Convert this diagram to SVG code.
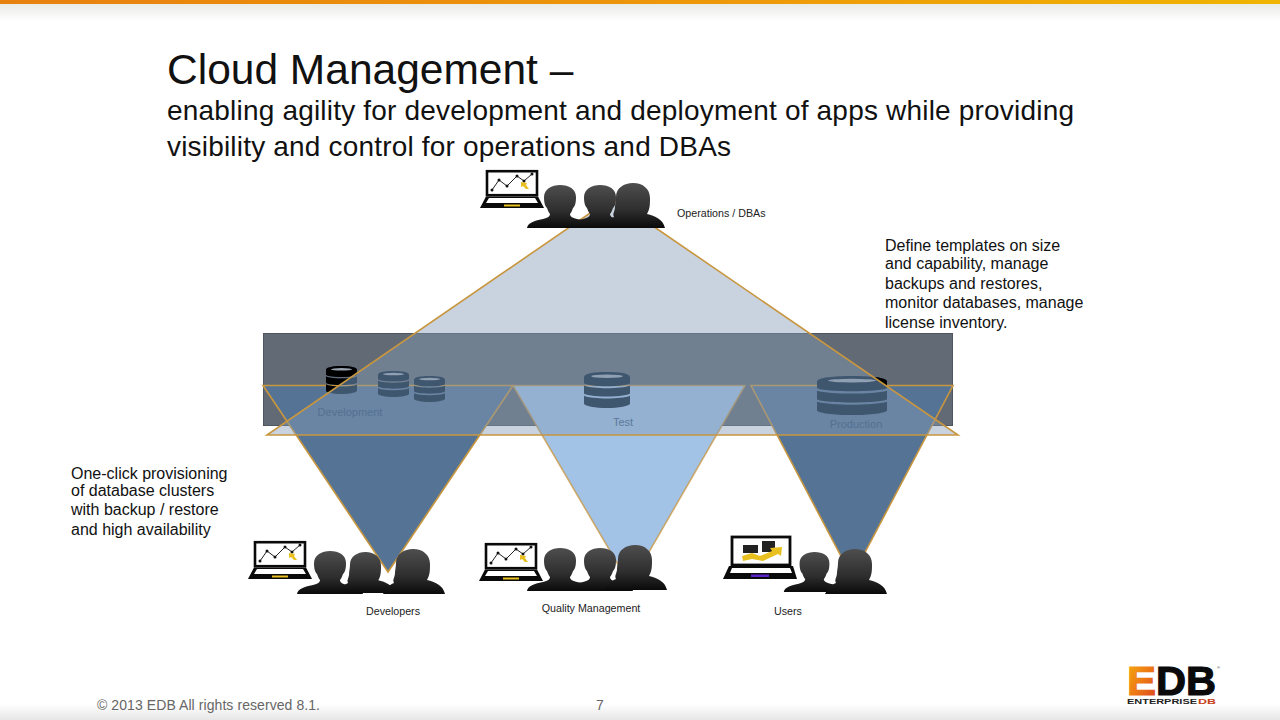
<svg xmlns="http://www.w3.org/2000/svg" xmlns:xlink="http://www.w3.org/1999/xlink" width="1280" height="720" viewBox="0 0 1280 720">
<style>
text{font-family:"Liberation Sans",Arial,sans-serif;fill:#111}
.title{font-size:42.500px}
.sub{font-size:28px}
.note{font-size:16px}
.lbl{font-size:10.700px;fill:#222}
.db-lbl{font-size:11px;fill:#24466c;opacity:.8}
.foot{font-size:14px;fill:#666}
.cone{stroke:#c8963f;stroke-width:1.600;stroke-linejoin:miter}
.dbk{color:#0a2038}
.blk{color:#000}
</style>
<defs>
<linearGradient id="top" x1="0" x2="1" y1="0" y2="0"><stop offset="0" stop-color="#e8800e"/><stop offset=".6" stop-color="#ee9a08"/><stop offset="1" stop-color="#f0b400"/></linearGradient>
<linearGradient id="shadeT" x1="0" x2="0" y1="0" y2="1"><stop offset="0" stop-color="#e9ebe6"/><stop offset="1" stop-color="#fff"/></linearGradient>
<linearGradient id="shadeB" x1="0" x2="0" y1="0" y2="1"><stop offset="0" stop-color="#fff"/><stop offset="1" stop-color="#e6e6e6"/></linearGradient>
<linearGradient id="sil" x1="0" x2="0" y1="0" y2="1"><stop offset="0" stop-color="#4e4e4e"/><stop offset=".6" stop-color="#2e2e2e"/><stop offset="1" stop-color="#0a0a0a"/></linearGradient>
<linearGradient id="eGrad" x1="0" x2="1" y1="0" y2="1"><stop offset="0" stop-color="#f4b012"/><stop offset=".5" stop-color="#ee7a14"/><stop offset="1" stop-color="#d8401a"/></linearGradient>
<clipPath id="outsideCone"><polygon points="267,435 612,198 250,198 250,435"/><polygon points="958,435 612,198 970,198 970,435"/></clipPath>
<symbol id="man" viewBox="-40 0 80 44" width="80" height="44" overflow="visible">
<path fill="url(#sil)" d="M-16 12C-16 4-8 0 0 0C9 0 16 4 16 12C16 18 15 21 13 23C12 26 11 28 10 29C10 31 12 33 17 34C27 36 32 38 33 43L-33 43C-32 38-27 36-17 34C-12 33-10 31-10 29C-11 28-12 26-13 23C-15 21-16 18-16 12Z"/>
</symbol>
<symbol id="woman" viewBox="-40 0 80 46" width="80" height="46" overflow="visible">
<path fill="url(#sil)" d="M-17 14C-17 5-9 0 0 0C10 0 17 6 17 15C17 21 17 26 14 31C22 33 30 36 32 45L-30 45C-27 39-24 36-19 34C-21 31-18 28-18 24C-18 21-17 18-17 14Z"/>
</symbol>
<symbol id="laptop" viewBox="0 0 64 38" width="64" height="38" overflow="visible">
<rect x="7" y="1.200" width="50" height="24" fill="#fff" stroke="#0a0a0a" stroke-width="2.600"/>
<path d="M6 26.500H58L64 38H0Z" fill="#0a0a0a"/>
<path d="M9 28H55L58 33H6Z" fill="#fff"/>
</symbol>
<symbol id="chart" viewBox="0 0 64 38" width="64" height="38" overflow="visible">
<polyline points="12,20 19,10 27,16 37,6 44,11 52,4" fill="none" stroke="#222" stroke-width="1"/>
<g fill="#111"><circle cx="12" cy="20" r="1.500"/><circle cx="19" cy="10" r="1.500"/><circle cx="27" cy="16" r="1.500"/><circle cx="37" cy="6" r="1.500"/><circle cx="44" cy="11" r="1.500"/><circle cx="52" cy="4" r="1.500"/></g>
<path d="M41 12L47 13L46 15L49 19L46 19L43 16L41 17Z" fill="#e8c020"/>
<rect x="24" y="34.500" width="16" height="2" fill="#e8c020"/>
</symbol>
<symbol id="db" viewBox="0 0 32 28" width="32" height="28" preserveAspectRatio="none" overflow="visible">
<path d="M0 4C0 1 8 0 16 0S32 1 32 4V8.500C32 10 24 11 16 11S0 10 0 8.500Z" fill="currentColor"/>
<ellipse cx="16" cy="3.300" rx="11" ry="1.300" fill="#9aa4b0"/>
<path d="M0 10.500C3 12 10 12.600 16 12.600S29 12 32 10.500V16.500C32 18 24 19 16 19S0 18 0 16.500Z" fill="currentColor"/>
<path d="M0 18.500C3 20 10 20.600 16 20.600S29 20 32 18.500V24.500C32 26.500 24 28 16 28S0 26.500 0 24.500Z" fill="currentColor"/>
</symbol>
</defs>
<rect width="1280" height="720" fill="#fff"/>
<rect y="4" width="1280" height="17" fill="url(#shadeT)"/>
<rect width="1280" height="4" fill="url(#top)"/>
<rect y="704" width="1280" height="16" fill="url(#shadeB)"/>

<g id="heading">
<text class="title" x="167" y="84">Cloud Management –</text>
<text class="sub" x="167" y="120" textLength="907" lengthAdjust="spacing">enabling agility for development and deployment of apps while providing</text>
<text class="sub" x="167" y="156" textLength="564" lengthAdjust="spacing">visibility and control for operations and DBAs</text>
</g>

<rect id="cloud-band" x="263.500" y="333.500" width="689" height="92" fill="#626b75" stroke="#4c5560"/>

<g id="connectors">
<polygon id="cone-dev" class="cone" points="263,385.500 513,385.500 388,572" fill="#557495"/>
<polygon id="cone-test" class="cone" points="513,385.500 745,385.500 630,585" fill="#a2c2e6" stroke-opacity=".75"/>
<polygon id="cone-prod" class="cone" points="751,385.500 953,385.500 852,577" fill="#557495"/>
</g>

<g id="db-development" class="dbk">
<use xlink:href="#db" href="#db" x="326" y="366" width="31" height="28"/>
<use xlink:href="#db" href="#db" x="378" y="371" width="31" height="26"/>
<use xlink:href="#db" href="#db" x="414" y="376" width="31" height="26"/>
<text class="db-lbl" x="350" y="416" text-anchor="middle">Development</text>
</g>
<g id="db-test" class="dbk">
<use xlink:href="#db" href="#db" x="584" y="372" width="46" height="36"/>
<text class="db-lbl" x="623" y="426" text-anchor="middle">Test</text>
</g>
<g id="db-production" class="dbk">
<use xlink:href="#db" href="#db" x="817" y="376" width="70" height="39"/>
<text class="db-lbl" x="856" y="428" text-anchor="middle">Production</text>
</g>
<g id="db-outside-cone" class="blk" clip-path="url(#outsideCone)">
<use xlink:href="#db" href="#db" x="326" y="366" width="31" height="28"/>
<use xlink:href="#db" href="#db" x="817" y="376" width="70" height="39"/>
</g>

<polygon id="cone-operations" class="cone" points="612,198 958,435 267,435" fill="#849bb6" fill-opacity=".44"/>

<g id="operations">
<use xlink:href="#laptop" href="#laptop" x="480" y="170"/>
<use xlink:href="#chart" href="#chart" x="480" y="170"/>
<use xlink:href="#man" href="#man" x="520" y="185"/>
<use xlink:href="#man" href="#man" x="560" y="185"/>
<use xlink:href="#woman" href="#woman" x="593" y="183"/>
<text class="lbl" x="677" y="217">Operations / DBAs</text>
</g>
<g id="developers">
<use xlink:href="#laptop" href="#laptop" x="248" y="541"/>
<use xlink:href="#chart" href="#chart" x="248" y="541"/>
<use xlink:href="#man" href="#man" x="290" y="551"/>
<use xlink:href="#woman" href="#woman" x="329" y="552" width="73" height="42"/>
<use xlink:href="#woman" href="#woman" x="373" y="549"/>
<text class="lbl" x="393" y="615" text-anchor="middle">Developers</text>
</g>
<g id="quality">
<use xlink:href="#laptop" href="#laptop" x="479" y="543"/>
<use xlink:href="#chart" href="#chart" x="479" y="543"/>
<use xlink:href="#man" href="#man" x="520" y="548"/>
<use xlink:href="#man" href="#man" x="560" y="548"/>
<use xlink:href="#woman" href="#woman" x="595" y="545"/>
<text class="lbl" x="591" y="612" text-anchor="middle">Quality Management</text>
</g>
<g id="users">
<rect x="732" y="537" width="58" height="28" fill="#fff" stroke="#0a0a0a" stroke-width="2.800"/>
<path d="M729 566H793L797 579H723Z" fill="#0a0a0a"/>
<path d="M732 568H790L792 573H730Z" fill="#fff"/>
<rect x="751" y="574.500" width="18" height="2.500" fill="#5a20c8"/>
<rect x="743" y="545" width="15" height="8" fill="#222"/>
<rect x="762" y="541" width="13" height="11" fill="#222"/>
<path d="M742 556L752 553L760 556L772 551L770 548L782 547L781 556L778 554L763 561L752 559L743 561Z" fill="#e8c020"/>
<use xlink:href="#man" href="#man" x="777" y="552" width="75" height="41"/>
<use xlink:href="#woman" href="#woman" x="815" y="549"/>
<text class="lbl" x="788" y="615" text-anchor="middle">Users</text>
</g>

<g id="note-operations">
<text class="note" x="885" y="251">Define templates on size</text>
<text class="note" x="885" y="269">and capability, manage</text>
<text class="note" x="885" y="289">backups and restores,</text>
<text class="note" x="885" y="308">monitor databases, manage</text>
<text class="note" x="885" y="328">license inventory.</text>
</g>
<g id="note-provisioning">
<text class="note" x="71" y="479">One-click provisioning</text>
<text class="note" x="71" y="496">of database clusters</text>
<text class="note" x="71" y="515">with backup / restore</text>
<text class="note" x="71" y="535">and high availability</text>
</g>

<g id="footer">
<text class="foot" x="97" y="710" textLength="223" lengthAdjust="spacing">© 2013 EDB All rights reserved 8.1.</text>
<text class="foot" x="596" y="710">7</text>
</g>
<g id="logo">
<text x="1127" y="695" font-size="41" font-weight="700" style="fill:url(#eGrad);stroke:url(#eGrad);stroke-width:1.200" textLength="29" lengthAdjust="spacingAndGlyphs">E</text>
<text x="1156" y="695" font-size="41" font-weight="700" style="fill:#0a0a0a;stroke:#0a0a0a;stroke-width:1.200" textLength="60" lengthAdjust="spacingAndGlyphs">DB</text>
<text x="1217" y="669" font-size="4" style="fill:#333">®</text>
<text x="1127" y="704" font-size="7" font-weight="700" style="fill:#222" textLength="70" lengthAdjust="spacingAndGlyphs">ENTERPRISE</text>
<text x="1198" y="704" font-size="7" font-weight="700" style="fill:#c8401a" textLength="18" lengthAdjust="spacingAndGlyphs">DB</text>
</g>
</svg>
